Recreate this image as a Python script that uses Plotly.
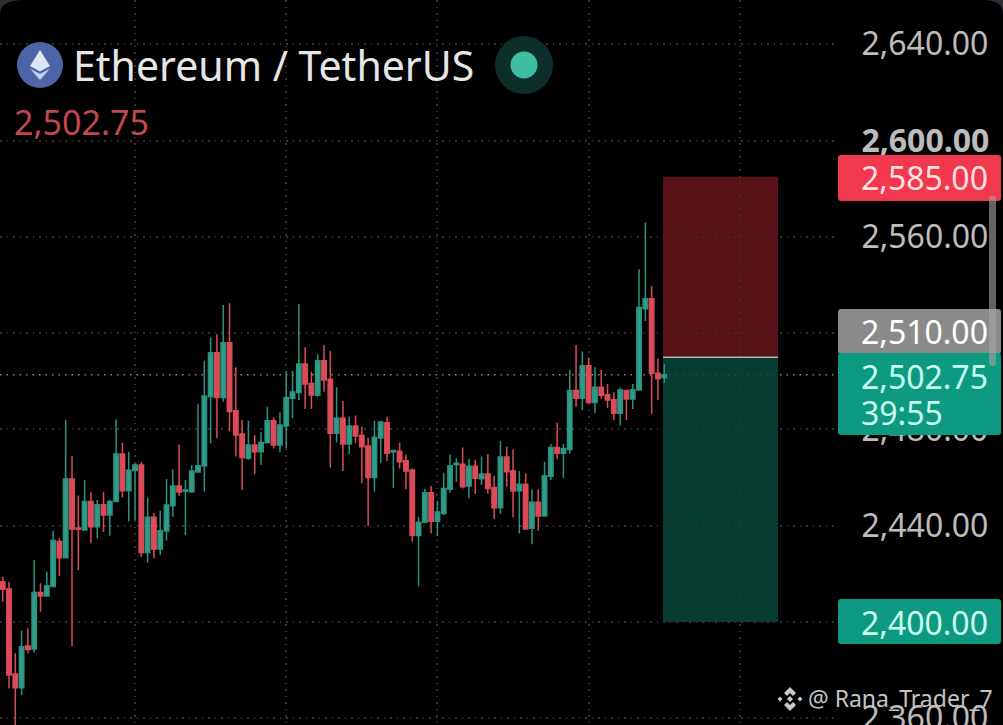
import plotly.graph_objects as go

# candles, oldest first
opens = [2416.7, 2413.7, 2378.4, 2372.7, 2390.0, 2388.8, 2412.2, 2410.8, 2414.7, 2433.4,
         2426.7, 2459.4, 2439.0, 2438.2, 2450.1, 2439.6, 2448.7, 2444.4, 2450.1, 2469.8,
         2454.5, 2462.9, 2465.2, 2428.9, 2443.5, 2430.3, 2437.8, 2448.3, 2456.5, 2454.3,
         2454.1, 2462.3, 2464.8, 2493.6, 2511.9, 2493.3, 2516.0, 2487.8, 2478.1, 2468.0,
         2473.5, 2470.7, 2474.5, 2483.6, 2473.5, 2481.4, 2492.9, 2495.3, 2507.2, 2499.1,
         2494.2, 2508.5, 2500.8, 2478.4, 2484.6, 2473.9, 2481.4, 2477.5, 2473.1, 2460.0,
         2476.4, 2482.8, 2470.6, 2470.9, 2467.0, 2463.1, 2435.9, 2441.4, 2453.7, 2441.8,
         2445.1, 2455.1, 2465.4, 2465.5, 2456.5, 2464.7, 2459.5, 2461.5, 2455.9, 2447.5,
         2468.5, 2462.7, 2454.5, 2457.2, 2438.9, 2449.7, 2444.0, 2460.5, 2472.5, 2470.1,
         2471.7, 2496.2, 2492.9, 2506.5, 2491.2, 2497.5, 2494.4, 2492.3, 2486.7, 2496.2,
         2492.6, 2496.4, 2530.1, 2534.3, 2503.3, 2501.5]
highs = [2418.8, 2416.7, 2387.0, 2396.4, 2397.4, 2425.7, 2416.1, 2420.9, 2437.9, 2434.8,
         2483.9, 2469.0, 2452.5, 2459.0, 2454.1, 2450.7, 2454.1, 2450.7, 2484.2, 2474.5,
         2470.7, 2465.9, 2466.5, 2451.8, 2445.4, 2446.2, 2459.4, 2463.4, 2473.7, 2459.0,
         2465.2, 2490.5, 2508.5, 2518.2, 2519.5, 2531.7, 2532.4, 2505.8, 2483.9, 2483.6,
         2477.7, 2478.8, 2489.4, 2485.0, 2487.0, 2504.3, 2504.3, 2532.1, 2514.1, 2504.0,
         2511.2, 2515.1, 2512.6, 2497.5, 2491.8, 2485.3, 2485.8, 2481.1, 2476.6, 2483.6,
         2483.6, 2485.3, 2471.4, 2474.5, 2469.6, 2463.8, 2443.7, 2455.4, 2456.5, 2450.3,
         2462.0, 2469.6, 2468.0, 2472.5, 2467.7, 2467.3, 2468.7, 2469.8, 2460.8, 2475.2,
         2472.8, 2471.7, 2462.7, 2461.8, 2455.1, 2455.1, 2466.6, 2473.9, 2482.9, 2473.9,
         2504.7, 2515.1, 2512.4, 2509.9, 2505.8, 2504.7, 2498.9, 2495.4, 2497.3, 2496.4,
         2498.9, 2546.5, 2566.0, 2539.6, 2509.5, 2507.2]
lows = [2408.4, 2372.4, 2355.0, 2369.7, 2387.0, 2387.3, 2404.3, 2410.5, 2414.7, 2419.1,
        2426.7, 2390.0, 2421.6, 2438.2, 2432.7, 2434.8, 2437.4, 2435.9, 2449.8, 2451.8,
        2441.7, 2442.4, 2427.1, 2424.6, 2426.4, 2427.8, 2433.8, 2443.7, 2452.3, 2436.1,
        2453.7, 2462.0, 2454.1, 2474.2, 2476.3, 2491.5, 2479.1, 2468.7, 2454.8, 2467.3,
        2461.5, 2465.2, 2474.5, 2472.1, 2470.5, 2472.1, 2484.6, 2492.2, 2488.5, 2488.5,
        2493.6, 2495.7, 2464.2, 2474.6, 2462.7, 2469.8, 2474.5, 2457.6, 2439.9, 2454.1,
        2465.9, 2466.9, 2455.7, 2463.8, 2455.1, 2433.4, 2414.7, 2441.0, 2436.8, 2435.7,
        2444.4, 2453.7, 2458.3, 2455.5, 2451.4, 2453.2, 2456.9, 2453.4, 2442.8, 2444.9,
        2456.2, 2443.5, 2436.8, 2438.5, 2432.3, 2437.9, 2443.8, 2459.0, 2467.7, 2459.9,
        2470.1, 2489.4, 2488.1, 2491.1, 2486.7, 2492.8, 2488.8, 2483.9, 2481.6, 2483.9,
        2488.5, 2496.4, 2525.0, 2486.4, 2492.2, 2499.4]
closes = [2413.6, 2378.0, 2372.7, 2389.7, 2388.6, 2412.2, 2410.8, 2415.0, 2433.8, 2426.7,
          2459.4, 2438.6, 2438.5, 2450.1, 2439.6, 2448.7, 2444.4, 2450.1, 2469.8, 2454.5,
          2463.0, 2465.2, 2428.9, 2443.5, 2430.3, 2437.9, 2448.6, 2456.5, 2454.0, 2454.8,
          2462.7, 2464.9, 2493.9, 2511.9, 2493.3, 2516.0, 2487.4, 2477.7, 2468.3, 2473.5,
          2470.7, 2474.6, 2483.6, 2473.5, 2481.8, 2493.3, 2495.5, 2507.2, 2498.9, 2494.3,
          2508.5, 2500.5, 2478.4, 2484.6, 2473.9, 2481.4, 2477.3, 2472.8, 2460.0, 2476.7,
          2483.1, 2470.1, 2471.2, 2466.6, 2462.7, 2435.9, 2441.4, 2453.7, 2441.8, 2445.7,
          2455.5, 2464.9, 2465.9, 2456.2, 2464.7, 2459.7, 2461.5, 2455.5, 2447.5, 2468.5,
          2462.4, 2454.4, 2457.2, 2438.6, 2449.7, 2444.0, 2460.8, 2472.5, 2470.1, 2472.1,
          2496.2, 2492.9, 2506.5, 2491.2, 2497.5, 2494.2, 2492.2, 2486.7, 2496.4, 2492.6,
          2496.5, 2530.6, 2534.3, 2503.3, 2501.1, 2502.75]

# 2,520 and 2,400 sit fully under the price tags, so they get no tick text
y_ticks = [2360, 2400, 2440, 2480, 2520, 2560, 2600, 2640]
y_labels = ["2,360.00", "", "2,440.00", "2,480.00", "", "2,560.00", "<b>2,600.00</b>", "2,640.00"]
time_grid = [21, 45, 69, 93, 117]

last_price = 2502.75
stop_price = 2585
entry_price = 2510
target_price = 2400

W, H = 1003, 725
FONT = "Noto Sans"


def px(x):
    return x / W


def py(y):
    return 1 - y / H


def poly(points, color):
    path = "M" + " L".join(f"{px(x):.5f},{py(y):.5f}" for x, y in points) + " Z"
    return dict(type="path", path=path, xref="paper", yref="paper", fillcolor=color, line_width=0, layer="above")


def disc(cx, cy, r, color):
    return dict(type="circle", xref="paper", yref="paper", x0=px(cx - r), x1=px(cx + r),
                y0=py(cy + r), y1=py(cy - r), fillcolor=color, line_width=0, layer="above")


def tag(x0, x1, y0, y1, color, r=3):
    # rounded price tag on the right scale
    path = (f"M{px(x0 + r)},{py(y0)} L{px(x1 - r)},{py(y0)} Q{px(x1)},{py(y0)} {px(x1)},{py(y0 + r)} "
            f"L{px(x1)},{py(y1 - r)} Q{px(x1)},{py(y1)} {px(x1 - r)},{py(y1)} "
            f"L{px(x0 + r)},{py(y1)} Q{px(x0)},{py(y1)} {px(x0)},{py(y1 - r)} "
            f"L{px(x0)},{py(y0 + r)} Q{px(x0)},{py(y0)} {px(x0 + r)},{py(y0)} Z")
    return dict(type="path", path=path, xref="paper", yref="paper", fillcolor=color, line_width=0, layer="above")


def corner(x0, y0, x1, y1, cx, cy, color):
    # screen corner of the phone photo
    path = f"M{px(cx)},{py(cy)} L{px(x0)},{py(y0)} Q{px(cx)},{py(cy)} {px(x1)},{py(y1)} Z"
    return dict(type="path", path=path, xref="paper", yref="paper", fillcolor=color, line_width=0, layer="above")


def label(x, y, text, size, color, anchor="left"):
    return dict(x=px(x), y=py(y), xref="paper", yref="paper", text=text, showarrow=False,
                xanchor=anchor, yanchor="middle", font=dict(family=FONT, size=size, color=color))


fig = go.Figure(go.Candlestick(
    x=list(range(len(opens))),
    open=opens, high=highs, low=lows, close=closes,
    increasing=dict(line=dict(color="#2b9180", width=1.5), fillcolor="#2f9d88"),
    decreasing=dict(line=dict(color="#d84c58", width=1.5), fillcolor="#dd4b57"),
    whiskerwidth=0,
    showlegend=False,
))

shapes = [
    # risk and reward boxes of the position tool
    dict(type="rect", xref="x", yref="y", x0=104.8, x1=123.05, y0=entry_price, y1=stop_price,
         fillcolor="rgba(105,22,28,0.85)", line_width=0, layer="below"),
    dict(type="rect", xref="x", yref="y", x0=104.8, x1=123.05, y0=target_price, y1=entry_price,
         fillcolor="rgba(8,70,58,0.85)", line_width=0, layer="below"),
    dict(type="line", xref="x", yref="y", x0=104.8, x1=123.05, y0=entry_price, y1=entry_price,
         line=dict(color="#b5b5b5", width=1.5), layer="above"),
    # last price line
    dict(type="line", xref="paper", yref="y", x0=0, x1=835 / W, y0=last_price, y1=last_price,
         line=dict(color="#8a8a8a", width=1.5, dash="1.5px,5px"), layer="below"),
    # price tags
    tag(838, 1001, 155, 201, "#f0394d"),
    tag(838, 1001, 309, 354, "#8a8a8a"),
    tag(838, 1001, 353, 435, "#0e9a80"),
    tag(838, 1001, 599, 644, "#0e9a80"),
    # scroll bar
    tag(989, 996, 196, 366, "rgba(165,165,165,0.6)"),
    # coin icon and status dot
    disc(40, 65, 23, "#4d64a8"),
    poly([(40, 50), (50, 66), (40, 71.5), (30, 66)], "#dfe6f6"),
    poly([(40, 74), (50, 68.5), (40, 80), (30, 68.5)], "#c6d2ec"),
    disc(524, 65, 29, "#0c2f2a"),
    disc(524, 65, 13.5, "#3fbfa2"),
    # watermark logo
    poly([(790, 687), (796, 693), (793, 696), (790, 693), (787, 696), (784, 693)], "#c8c8c8"),
    poly([(790, 696), (793, 699), (790, 702), (787, 699)], "#c8c8c8"),
    poly([(780, 696.5), (782.5, 699), (780, 701.5), (777.5, 699)], "#c8c8c8"),
    poly([(800, 696.5), (802.5, 699), (800, 701.5), (797.5, 699)], "#c8c8c8"),
    poly([(790, 711), (796, 705), (793, 702), (790, 705), (787, 702), (784, 705)], "#c8c8c8"),
    # rounded screen corners
    corner(24, 0, 0, 14, 0, 0, "#2b3036"),
    corner(983, 0, 1003, 14, 1003, 0, "#2b3036"),
]

annotations = [
    label(71, 65, "Ethereum / TetherUS", 41, "#e6e6e6"),
    label(12, 122, "2,502.75", 34, "#c2474f"),
    label(859, 178, "2,585.00", 32, "#ffdfe2"),
    label(859, 331, "2,510.00", 32, "#ffffff"),
    label(859, 376, "2,502.75", 32, "#c8fff0"),
    label(859, 412, "39:55", 32, "#c8fff0"),
    label(859, 622, "2,400.00", 32, "#c8fff0"),
    label(806, 698, "@ Rana_Trader_7", 23, "#c4c4c4"),
]

fig.update_layout(
    width=W, height=H,
    margin=dict(l=0, r=0, t=0, b=0, autoexpand=False),
    paper_bgcolor="#000000",
    plot_bgcolor="#000000",
    boxgap=0,
    shapes=shapes,
    annotations=annotations,
    xaxis=dict(
        domain=[0, 835 / W], range=[-0.43, 132.1], rangeslider_visible=False, automargin=False,
        tickmode="array", tickvals=time_grid, showticklabels=False, ticks="",
        showgrid=True, gridcolor="#333333", griddash="1.5px,5px", gridwidth=1.5, zeroline=False, showline=False,
    ),
    yaxis=dict(
        side="right", anchor="x", range=[2357.2, 2658.4], automargin=False,
        tickmode="array", tickvals=y_ticks, ticktext=y_labels,
        ticks="outside", ticklen=19, tickcolor="#000000", ticklabeloverflow="allow",
        tickfont=dict(family=FONT, size=32, color="#bcbcbc"),
        showgrid=True, gridcolor="#333333", griddash="1.5px,5px", gridwidth=1.5, zeroline=False, showline=False,
    ),
)

fig.write_html("out.html", config=dict(displayModeBar=False),
               post_script="document.body.style.margin='0';document.body.style.overflow='hidden';")
